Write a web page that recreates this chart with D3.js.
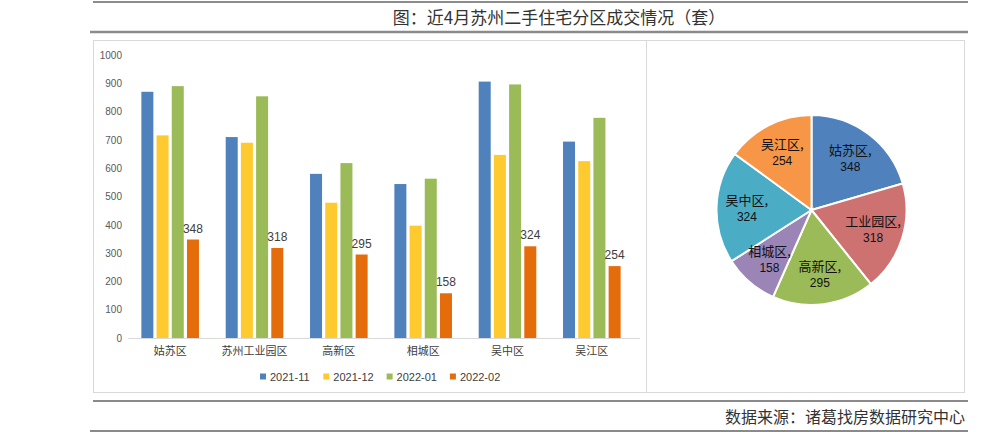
<!DOCTYPE html>
<html>
<head>
<meta charset="utf-8">
<script src="https://cdn.jsdelivr.net/npm/d3@7"></script>
<style>
  html, body { margin: 0; padding: 0; background: #fff; }
  svg { display: block; font-family: "Liberation Sans", Arial, "Noto Sans CJK SC", sans-serif; }
</style>
</head>
<body>
<div id="chart"></div>
<script>
const W = 1000;
const H = 432;

// data
const districts = ["姑苏区", "苏州工业园区", "高新区", "相城区", "吴中区", "吴江区"];
const months = ["2021-11", "2021-12", "2022-01", "2022-02"];
const v202111 = [870, 710, 580, 544, 906, 694];
const v202112 = [716, 690, 478, 397, 647, 625];
const v202201 = [890, 854, 618, 563, 896, 778];
const v202202 = [348, 318, 295, 158, 324, 254];
const yTicks = [0, 100, 200, 300, 400, 500, 600, 700, 800, 900, 1000];

const pieNames = ["姑苏区", "工业园区", "高新区", "相城区", "吴中区", "吴江区"];
const pieValues = v202202;

const barColors = ["#4f81bd", "#ffca30", "#9bbb59", "#e46c0a"];
const pieColors = ["#4f81bd", "#cd7271", "#9bbb59", "#9a85b6", "#4bacc6", "#f79646"];

const seriesValues = [v202111, v202112, v202201, v202202];

const svg = d3.select("#chart").append("svg")
  .attr("width", W)
  .attr("height", H)
  .attr("viewBox", `0 0 ${W} ${H}`);

svg.append("rect").attr("width", W).attr("height", H).attr("fill", "#fff");

// frame lines + title
svg.append("line").attr("x1", 93).attr("x2", 968).attr("y1", 2).attr("y2", 2)
  .attr("stroke", "#666").attr("stroke-width", 1.5);
svg.append("text")
  .attr("x", 559).attr("y", 24)
  .attr("text-anchor", "middle")
  .attr("font-family", "'Noto Sans CJK SC', sans-serif")
  .attr("font-size", 17)
  .attr("fill", "#333")
  .text("图：近4月苏州二手住宅分区成交情况（套）");
svg.append("line").attr("x1", 90).attr("x2", 968).attr("y1", 32).attr("y2", 32)
  .attr("stroke", "#8a8a8a").attr("stroke-width", 2.5);

svg.append("rect").attr("x", 93.5).attr("y", 40.5).attr("width", 553).attr("height", 352)
  .attr("fill", "none").attr("stroke", "#d9d9d9");
svg.append("rect").attr("x", 646.5).attr("y", 40.5).attr("width", 318).attr("height", 352)
  .attr("fill", "none").attr("stroke", "#d9d9d9");

svg.append("line").attr("x1", 93).attr("x2", 968).attr("y1", 401).attr("y2", 401)
  .attr("stroke", "#8a8a8a").attr("stroke-width", 2);
svg.append("text")
  .attr("x", 965).attr("y", 423)
  .attr("text-anchor", "end")
  .attr("font-family", "'Noto Sans CJK SC', sans-serif")
  .attr("font-size", 16)
  .attr("fill", "#333")
  .text("数据来源：诸葛找房数据研究中心");
svg.append("line").attr("x1", 90).attr("x2", 968).attr("y1", 431).attr("y2", 431)
  .attr("stroke", "#8a8a8a").attr("stroke-width", 2);

// bar chart
const x0 = d3.scaleBand().domain(districts).range([128, 634]).padding(0);
const x1 = d3.scaleBand().domain(months).range([0, 57.6]).paddingInner(0.21);
const y = d3.scaleLinear().domain([0, 1000]).range([338, 55]);
const groupOffset = (x0.bandwidth() - 57.6) / 2;

const yAxis = svg.append("g")
  .attr("transform", "translate(128,0)")
  .call(d3.axisLeft(y).tickValues(yTicks).tickFormat(d3.format("d")).tickSize(0).tickPadding(6));
yAxis.select(".domain").remove();
yAxis.selectAll("text")
  .attr("font-size", 10)
  .attr("fill", "#595959")
  .attr("font-family", "'Liberation Sans', Arial, sans-serif");

const groups = svg.append("g").selectAll("g")
  .data(districts)
  .join("g")
  .attr("transform", (d) => `translate(${x0(d) + groupOffset},0)`);

groups.selectAll("rect")
  .data((d, i) => months.map((m, k) => ({ m, v: seriesValues[k][i], k })))
  .join("rect")
  .attr("x", (d) => x1(d.m))
  .attr("y", (d) => y(d.v))
  .attr("width", x1.bandwidth())
  .attr("height", (d) => y(0) - y(d.v))
  .attr("fill", (d) => barColors[d.k]);

groups.append("text")
  .datum((d, i) => v202202[i])
  .attr("x", x1("2022-02") + x1.bandwidth() / 2)
  .attr("y", (d) => y(d) - 7)
  .attr("text-anchor", "middle")
  .attr("font-size", 12)
  .attr("fill", "#404040")
  .text((d) => d);

svg.append("line")
  .attr("x1", 128).attr("x2", 640)
  .attr("y1", y(0) + 0.5).attr("y2", y(0) + 0.5)
  .attr("stroke", "#d9d9d9");

const xAxis = svg.append("g")
  .attr("transform", `translate(0,${y(0)})`)
  .call(d3.axisBottom(x0).tickSize(0).tickPadding(9));
xAxis.select(".domain").remove();
xAxis.selectAll("text")
  .attr("font-size", 11)
  .attr("fill", "#404040")
  .attr("font-family", "'Noto Sans CJK SC', sans-serif");

// legend
const legend = svg.append("g").attr("transform", "translate(260,377)");
const item = legend.selectAll("g")
  .data(months)
  .join("g")
  .attr("transform", (d, i) => `translate(${i * 63.3},0)`);
item.append("rect")
  .attr("x", 0).attr("y", -3.5)
  .attr("width", 6).attr("height", 6)
  .attr("fill", (d, i) => barColors[i]);
item.append("text")
  .attr("x", 10).attr("y", 4)
  .attr("font-size", 11)
  .attr("fill", "#404040")
  .text((d) => d);

// pie chart
const cx = 811.5;
const cy = 210;
const r = 95;
const pie = d3.pie().sort(null).value((d) => d.v);
const arcs = pie(pieNames.map((n, i) => ({ n, v: pieValues[i], i })));
const arc = d3.arc().innerRadius(0).outerRadius(r);
const labelArc = d3.arc().innerRadius(r * 0.68).outerRadius(r * 0.68);

const pg = svg.append("g").attr("transform", `translate(${cx},${cy})`);
pg.selectAll("path")
  .data(arcs)
  .join("path")
  .attr("d", arc)
  .attr("fill", (d) => pieColors[d.data.i])
  .attr("stroke", "#fff")
  .attr("stroke-width", 2);

const lbl = pg.selectAll("g.lbl")
  .data(arcs)
  .join("g")
  .attr("class", "lbl")
  .attr("transform", (d) => `translate(${labelArc.centroid(d)})`);
lbl.append("text")
  .attr("y", -3)
  .attr("text-anchor", "middle")
  .attr("font-family", "'Noto Sans CJK SC', sans-serif")
  .attr("font-size", 13)
  .attr("fill", "#111")
  .text((d) => d.data.n + ",");
lbl.append("text")
  .attr("y", 13)
  .attr("text-anchor", "middle")
  .attr("font-size", 12)
  .attr("fill", "#111")
  .text((d) => d.data.v);
</script>
</body>
</html>
